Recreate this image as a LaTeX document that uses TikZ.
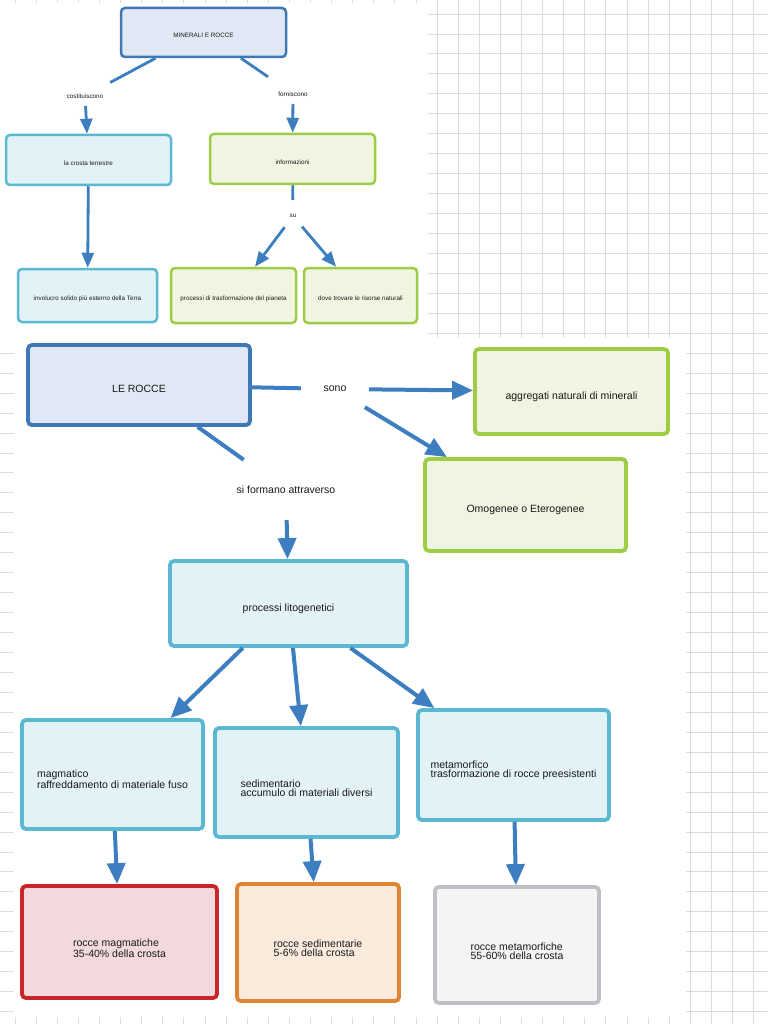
\documentclass[tikz,border=0pt]{standalone}
\usepackage{fontspec}
\setmainfont{Liberation Sans}
\usetikzlibrary{arrows.meta}
\definecolor{bBlue}{HTML}{3F78B5}
\definecolor{fBlue}{HTML}{DFE8F4}
\definecolor{bCyan}{HTML}{5AB9D0}
\definecolor{fCyan}{HTML}{E3F2F6}
\definecolor{bGreen}{HTML}{9DCD45}
\definecolor{fGreen}{HTML}{EFF5E1}
\definecolor{bRed}{HTML}{C8262B}
\definecolor{fRed}{HTML}{F3D9DD}
\definecolor{bOrange}{HTML}{E08436}
\definecolor{fOrange}{HTML}{FAEBDC}
\definecolor{bGray}{HTML}{BFBFC6}
\definecolor{fGray}{HTML}{F4F4F5}
\definecolor{arrC}{HTML}{3C7EBF}
\definecolor{txt}{HTML}{1A1A1A}
\definecolor{gridC}{HTML}{DCDCDC}
\tikzset{
  bx/.style={rectangle, rounded corners=4pt, inner sep=0pt},
  tb/.style={bx, line width=2.5pt},
  lb/.style={bx, line width=3.8pt},
  blueb/.style={draw=bBlue, fill=fBlue},
  cyanb/.style={draw=bCyan, fill=fCyan},
  greenb/.style={draw=bGreen, fill=fGreen},
  redb/.style={draw=bRed, fill=fRed},
  orangeb/.style={draw=bOrange, fill=fOrange},
  grayb/.style={draw=bGray, fill=fGray},
  tt/.style={font=\fontsize{6.3}{7.5}\selectfont, text=txt},
  lt/.style={font=\fontsize{10.5}{9}\selectfont, text=txt, align=left},
  tlab/.style={tt, inner sep=0pt},
  llab/.style={lt, inner sep=0pt},
  tconn/.style={draw=arrC, line width=2.8pt},
  tarr/.style={tconn, -{Triangle[length=15pt,width=12pt]}},
  lconn/.style={draw=arrC, line width=4pt},
  larr/.style={lconn, -{Triangle[length=21pt,width=18pt]}},
  gridline/.style={draw=gridC, line width=0.8pt}
}
\begin{document}
\begin{tikzpicture}[x=1pt,y=-1pt]
\useasboundingbox (0,0) rectangle (768,1024);
\fill[white] (0,0) rectangle (768,1024);
% background grid
\foreach \i in {-21,...,16} \draw[gridline] ({437+21.1*\i},0) -- ({437+21.1*\i},1024);
\foreach \j in {-1,...,51} \draw[gridline] (0,{14+19.95*\j}) -- (768,{14+19.95*\j});
\fill[white] (0,3) rectangle (428,338);
\fill[white] (14,338) rectangle (686,1017);

% ---------- top map ----------
\node[tb, blueb, minimum width=165pt, minimum height=49pt,
  label={[tt,yshift=-3pt]center:MINERALI E ROCCE}] (mr) at (203.5,32.5) {};
\node[tb, cyanb, minimum width=165pt, minimum height=50pt,
  label={[tt,yshift=-3pt]center:la crosta terrestre}] (crosta) at (88.5,160) {};
\node[tb, greenb, minimum width=165pt, minimum height=50pt,
  label={[tt,yshift=-3pt]center:informazioni}] (info) at (292.5,159) {};
\node[tb, cyanb, minimum width=139pt, minimum height=53pt,
  label={[tt,yshift=-3pt]center:involucro solido più esterno della Terra}] (invol) at (87.5,295.5) {};
\node[tb, greenb, minimum width=125pt, minimum height=55pt,
  label={[tt,yshift=-3pt]center:processi di trasformazione del pianeta}] (ptrasf) at (233.5,295.5) {};
\node[tb, greenb, minimum width=113pt, minimum height=55pt,
  label={[tt,yshift=-3pt]center:dove trovare le risorse naturali}] (dove) at (360.5,295.5) {};

\node[tlab, minimum width=50pt, minimum height=36pt] (cost) at (85,96) {costituiscono};
\node[tlab, minimum width=50pt, minimum height=34pt] (forn) at (293,94) {forniscono};
\node[tlab] (su) at (293,216) {su};

\draw[tconn] (mr) -- (cost);
\draw[tarr, shorten <=10pt] (cost.center) -- (crosta);
\draw[tconn] (mr) -- (forn);
\draw[tarr, shorten <=10pt] (forn.center) -- (info);
\draw[tconn, shorten >=16pt] (info) -- (su.center);
\draw[tarr, shorten <=14pt] (su.center) -- (ptrasf);
\draw[tarr, shorten <=14pt] (su.center) -- (dove);
\draw[tarr] (crosta) -- (invol);

% ---------- lower map ----------
\node[lb, blueb, minimum width=222pt, minimum height=80pt,
  label={[lt,yshift=-4pt]center:LE ROCCE}] (rocce) at (139,385) {};
\node[lb, greenb, minimum width=193pt, minimum height=85pt,
  label={[lt,yshift=-5pt]center:aggregati naturali di minerali}] (aggr) at (571.5,391.5) {};
\node[lb, greenb, minimum width=201pt, minimum height=92pt,
  label={[lt,yshift=-5pt]center:Omogenee o Eterogenee}] (omog) at (525.5,505) {};
\node[lb, cyanb, minimum width=237pt, minimum height=85pt,
  label={[lt,yshift=-5pt]center:processi litogenetici}] (proc) at (288.5,603.5) {};
\node[lb, cyanb, minimum width=181pt, minimum height=109pt,
  label={[lt,yshift=-5pt]center:{magmatico\\raffreddamento di materiale fuso}}] (magm) at (112.5,774.5) {};
\node[lb, cyanb, minimum width=183pt, minimum height=109pt,
  label={[lt,yshift=-6pt]center:{sedimentario\\accumulo di materiali diversi}}] (sedim) at (306.5,782.5) {};
\node[lb, cyanb, minimum width=191pt, minimum height=110pt,
  label={[lt,yshift=-5pt]center:{metamorfico\\trasformazione di rocce preesistenti}}] (metam) at (513.5,765) {};
\node[lb, redb, minimum width=195pt, minimum height=112pt,
  label={[lt,yshift=-6pt]center:{rocce magmatiche\\35-40\% della crosta}}] (rmag) at (119.5,942) {};
\node[lb, orangeb, minimum width=162pt, minimum height=117pt,
  label={[lt,yshift=-6pt]center:{rocce sedimentarie\\5-6\% della crosta}}] (rsed) at (318,942.5) {};
\node[lb, grayb, minimum width=164pt, minimum height=116pt,
  label={[lt,yshift=-6pt]center:{rocce metamorfiche\\55-60\% della crosta}}] (rmet) at (517,945) {};

\node[llab, minimum width=68pt, minimum height=36pt] (sono) at (335,389) {sono};
\node[llab, minimum width=120pt, minimum height=60pt] (siform) at (286,490) {si formano attraverso};

\draw[lconn] (rocce) -- (sono);
\draw[larr] (sono) -- (aggr);
\draw[larr] (sono) -- (omog);
\draw[lconn] (rocce) -- (siform);
\draw[larr] (siform) -- (proc);
\draw[larr] (proc) -- (magm);
\draw[larr] (proc) -- (sedim);
\draw[larr] (proc) -- (metam);
\draw[larr] (magm) -- (rmag);
\draw[larr] (sedim) -- (rsed);
\draw[larr] (metam) -- (rmet);
\end{tikzpicture}
\end{document}
